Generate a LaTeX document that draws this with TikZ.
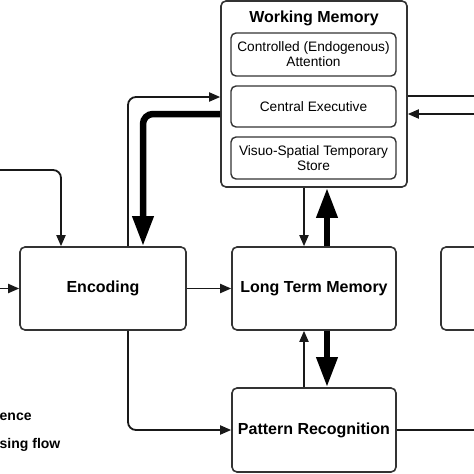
\documentclass[tikz,border=0pt]{standalone}
\usepackage{fontspec}
\setmainfont{Liberation Sans}
\usetikzlibrary{arrows.meta}
\begin{document}
\begin{tikzpicture}[x=1pt,y=-1pt,
  box/.style={draw=black!80, line width=1.6pt, rounded corners=5pt, align=center, inner sep=0pt},
  bigbox/.style={box, font=\fontsize{16}{19}\selectfont\bfseries},
  subbox/.style={box, line width=1.4pt, minimum width=165pt, font=\fontsize{13.7}{15}\selectfont},
  conn/.style={line width=1.8pt, draw=black!90, rounded corners=8pt},
  arr/.style={conn, -{Triangle[length=11pt,width=9pt]}},
  thickarr/.style={line width=6.5pt, draw=black, rounded corners=10pt, -{Triangle[length=30pt,width=20pt]}},
  legend/.style={font=\fontsize{14}{16}\selectfont\bfseries, anchor=west, inner sep=0pt}]
\useasboundingbox (0,0) rectangle (474,474);
\clip (0,0) rectangle (474,474);
% boxes
\node[box, minimum width=186pt, minimum height=186pt] (wm) at (314,94) {};
\node[font=\fontsize{16}{19}\selectfont\bfseries, inner sep=0pt] (wmt) at (314,18) {Working Memory};
\node[subbox, minimum height=43pt] (att) at (313.5,54.5) {Controlled (Endogenous)\\Attention};
\node[subbox, minimum height=41pt] (ce) at (313.5,106.5) {Central Executive};
\node[subbox, minimum height=42pt] (vs) at (313.5,158) {Visuo-Spatial Temporary\\Store};
\node[bigbox, minimum width=166pt, minimum height=83pt] (enc) at (103,288.5) {Encoding};
\node[bigbox, minimum width=164pt, minimum height=83pt] (ltm) at (314,288.5) {Long Term Memory};
\node[bigbox, minimum width=164pt, minimum height=84pt] (pr) at (314,430) {Pattern Recognition};
\node[box, minimum width=80pt, minimum height=83pt] (rb) at (481,288.5) {};
% free ends
\coordinate (in1) at (0,288.5);
\coordinate (in2) at (0,170);
\coordinate (r1) at (474,96);
\coordinate (r2) at (474,114);
\coordinate (r3) at (474,430);
% connectors
\draw[arr] (in1) -- (enc.west);
\draw[arr] (in2) -| ([xshift=-42pt]enc.north);
\draw[arr] ([xshift=25pt]enc.north) |- (wm.west |- 0,97);
\draw[thickarr] (wm.west |- 0,114) -| ([xshift=40pt]enc.north);
\draw[arr] (enc.east) -- (ltm.west);
\draw[arr] ([xshift=25pt]enc.south) |- (pr.west);
\draw[arr] ([xshift=-10pt]wm.south) -- ([xshift=-10pt]ltm.north);
\draw[thickarr] ([xshift=13pt]ltm.north) -- ([xshift=13pt]wm.south);
\draw[arr] ([xshift=-10pt]pr.north) -- ([xshift=-10pt]ltm.south);
\draw[thickarr] ([xshift=13pt]ltm.south) -- ([xshift=13pt]pr.north);
\draw[conn] (wm.east |- r1) -- (r1);
\draw[arr] (r2) -- (wm.east |- r2);
\draw[conn] (pr.east) -- (r3);
% legend fragments
\node[legend] (l1) at (-0.5,417) {ence};
\node[legend] (l2) at (-0.5,445) {sing flow};
\end{tikzpicture}
\end{document}
